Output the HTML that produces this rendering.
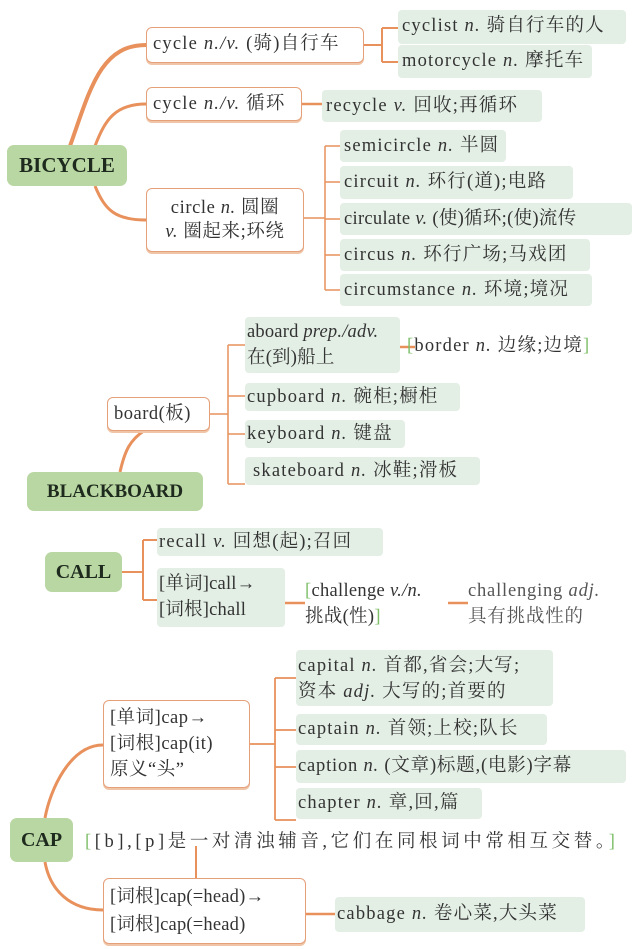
<!DOCTYPE html>
<html><head><meta charset="utf-8"><style>
body{margin:0;width:640px;height:949px;background:#fff;position:relative;overflow:hidden;font-family:"Liberation Serif","Noto Serif CJK SC",serif;color:#333;}
.b{position:absolute;box-sizing:border-box;font-size:18.5px;line-height:20px;white-space:nowrap;letter-spacing:1.2px}
.o{border:1.5px solid #e5a07a;border-radius:6px;background:#fff;box-shadow:0 2px 0 #f0c4a6;padding:6px 6px}
.g{background:#e3eee5;border-radius:4px;padding:6px 4px}
.k{background:#b9d7a2;border-radius:7px;font-weight:bold;font-size:21px;color:#1e2a1e;text-align:center;letter-spacing:0}
i{font-style:italic}
svg{position:absolute;left:0;top:0}
</style></head><body>
<svg width="640" height="949" fill="none" stroke="#e8915c" stroke-width="2.5">
<path d="M70 146 C90 90,100 45,146 45" stroke-width="4"/>
<path d="M95 146 C105 120,115 104,146 104" stroke-width="3"/>
<path d="M95 186 C105 210,115 220,146 220" stroke-width="3"/>
<path d="M364 45 H382 M382 28 V62 M382 28 H398 M382 62 H398" stroke-width="2"/>
<path d="M302 104 H322" stroke-width="2.5"/>
<path d="M304 218 H325 M325 146 V290 M325 146 H340 M325 182 H340 M325 219 H340 M325 255 H340 M325 290 H340" stroke-width="1.5"/>
<path d="M120 472 C125 450,130 440,145 430" stroke-width="3"/>
<path d="M210 414 H228 M228 345 V484 M228 345 H245 M228 396 H245 M228 434 H245 M228 484 H245" stroke-width="1.5"/>
<path d="M400 347 H415" stroke-width="2.5"/>
<path d="M122 572 H143 M143 540 V600 M143 540 H157 M143 600 H157" stroke-width="2"/>
<path d="M285 603 H305 M448 603 H468" stroke-width="2.5"/>
<path d="M45 818 C50 790,70 745,103 745" stroke-width="3"/>
<path d="M45 862 C50 890,70 910,103 910" stroke-width="3"/>
<path d="M250 744 H275 M275 678 V820 M275 678 H296 M275 730 H296 M275 767 H296 M275 820 H296" stroke-width="1.8"/>
<path d="M196 846 V878" stroke-width="2"/>
<path d="M306 914 H335" stroke-width="2.5"/>
</svg>

<div class="b k" style="left:7px;top:145px;width:120px;height:41px;line-height:41px">BICYCLE</div>
<div class="b o" style="left:146px;top:27px;width:218px;height:36px">cycle <i>n./v.</i> (骑)自行车</div>
<div class="b g" style="left:398px;top:10px;width:228px;height:34px">cyclist <i>n.</i> 骑自行车的人</div>
<div class="b g" style="left:398px;top:45px;width:194px;height:33px">motorcycle <i>n.</i> 摩托车</div>
<div class="b o" style="left:146px;top:87px;width:156px;height:34px">cycle <i>n./v.</i> 循环</div>
<div class="b g" style="left:322px;top:90px;width:220px;height:32px">recycle <i>v.</i> 回收;再循环</div>
<div class="b o" style="left:146px;top:188px;width:158px;height:64px;text-align:center;padding:7px 0 0;line-height:24px;letter-spacing:0.6px">circle <i>n.</i> 圆圈<br><i>v.</i> 圈起来;环绕</div>
<div class="b g" style="left:340px;top:130px;width:166px;height:32px">semicircle <i>n.</i> 半圆</div>
<div class="b g" style="left:340px;top:166px;width:233px;height:33px">circuit <i>n.</i> 环行(道);电路</div>
<div class="b g" style="left:340px;top:203px;width:292px;height:32px;letter-spacing:0.3px">circulate <i>v.</i> (使)循环;(使)流传</div>
<div class="b g" style="left:340px;top:239px;width:250px;height:32px">circus <i>n.</i> 环行广场;马戏团</div>
<div class="b g" style="left:340px;top:274px;width:252px;height:32px">circumstance <i>n.</i> 环境;境况</div>

<div class="b g" style="left:245px;top:317px;width:155px;height:56px;padding:2px 2px;line-height:26px;letter-spacing:0.2px">aboard <i>prep./adv.</i><br>在(到)船上</div>
<div class="b" style="left:407px;top:336px"><span style="color:#7fbf6a">[</span>border <i>n.</i> 边缘;边境<span style="color:#7fbf6a">]</span></div>
<div class="b o" style="left:107px;top:397px;width:103px;height:34px;padding:6px 6px;letter-spacing:0.5px">board(板)</div>
<div class="b g" style="left:245px;top:383px;width:215px;height:28px;padding:4px 2px">cupboard <i>n.</i> 碗柜;橱柜</div>
<div class="b g" style="left:245px;top:420px;width:160px;height:28px;padding:4px 2px">keyboard <i>n.</i> 键盘</div>
<div class="b g" style="left:245px;top:457px;width:235px;height:28px;padding:4px 8px">skateboard <i>n.</i> 冰鞋;滑板</div>
<div class="b k" style="left:27px;top:472px;width:176px;height:39px;line-height:39px;font-size:19px">BLACKBOARD</div>

<div class="b k" style="left:45px;top:552px;width:77px;height:40px;line-height:40px;font-size:20px">CALL</div>
<div class="b g" style="left:157px;top:528px;width:226px;height:28px;padding:4px 2px">recall <i>v.</i> 回想(起);召回</div>
<div class="b g" style="left:157px;top:568px;width:128px;height:59px;padding:3px 2px;line-height:26px;letter-spacing:0.2px">[单词]call→<br>[词根]chall</div>
<div class="b" style="left:305px;top:578px;line-height:26px;letter-spacing:0.3px"><span style="color:#7fbf6a">[</span>challenge <i>v./n.</i><br>挑战(性)<span style="color:#7fbf6a">]</span></div>
<div class="b" style="left:468px;top:578px;line-height:26px;color:#555;letter-spacing:0.8px">challenging <i>adj.</i><br>具有挑战性的</div>

<div class="b g" style="left:296px;top:650px;width:257px;height:56px;padding:3px 2px;line-height:26px">capital <i>n.</i> 首都,省会;大写;<br>资本 <i>adj.</i> 大写的;首要的</div>
<div class="b o" style="left:103px;top:700px;width:147px;height:88px;padding:4px 6px;line-height:26px;letter-spacing:0.5px">[单词]cap→<br>[词根]cap(it)<br>原义“头”</div>
<div class="b g" style="left:296px;top:714px;width:251px;height:31px;padding:5px 2px">captain <i>n.</i> 首领;上校;队长</div>
<div class="b g" style="left:296px;top:750px;width:330px;height:33px;padding:6px 2px;letter-spacing:0.8px">caption <i>n.</i> (文章)标题,(电影)字幕</div>
<div class="b g" style="left:296px;top:788px;width:186px;height:31px;padding:5px 2px">chapter <i>n.</i> 章,回,篇</div>
<div class="b k" style="left:10px;top:818px;width:63px;height:44px;line-height:44px;font-size:20px">CAP</div>
<div class="b" style="left:85px;top:832px;letter-spacing:3.6px"><span style="color:#7fbf6a">[</span>[b],[p]是一对清浊辅音,它们在同根词中常相互交替。<span style="color:#7fbf6a">]</span></div>
<div class="b o" style="left:103px;top:878px;width:203px;height:66px;padding:4px 6px;line-height:28px;letter-spacing:0.2px">[词根]cap(=head)→<br>[词根]cap(=head)</div>
<div class="b g" style="left:335px;top:897px;width:250px;height:35px;padding:7px 2px">cabbage <i>n.</i> 卷心菜,大头菜</div>
</body></html>
